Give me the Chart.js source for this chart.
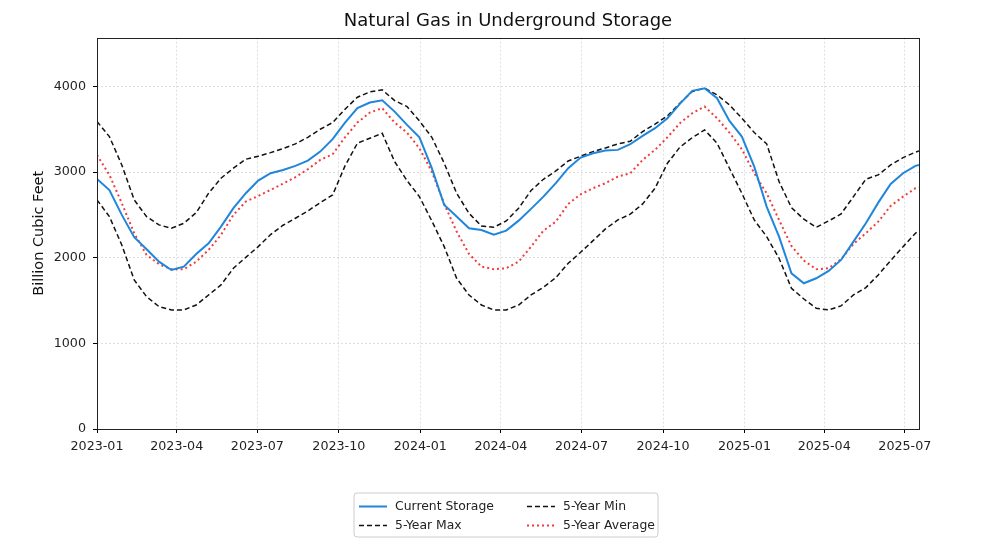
<!DOCTYPE html>
<html>
<head>
<meta charset="utf-8">
<title>Natural Gas in Underground Storage</title>
<script src="https://cdn.jsdelivr.net/npm/chart.js@4.4.1/dist/chart.umd.min.js"></script>
<style>
  html, body { margin: 0; padding: 0; background: #fff; }
  #wrap { width: 1000px; height: 559px; }
</style>
</head>
<body>
<div id="wrap"><canvas id="chart" width="1000" height="559"></canvas></div>
<script>
// days since 2023-01-01, roughly every two weeks
var days = [0, 14, 28, 42, 56, 70, 84, 98, 112, 126, 140, 154,
    168, 182, 196, 210, 224, 238, 252, 266, 280, 294,
    308, 322, 336, 350, 364, 378, 392, 406, 420, 434, 448,
    462, 476, 490, 504, 518, 532, 546, 560, 574, 588, 602,
    616, 630, 644, 658, 672, 686, 700, 714, 728, 742, 756,
    770, 784, 798, 812, 826, 840, 854, 868, 882, 896, 910,
    924, 928];

var currentStorage = [2920, 2790, 2500, 2239, 2099, 1954, 1857, 1896, 2044, 2169, 2363, 2578,
    2753, 2900, 2986, 3025, 3072, 3134, 3239, 3384, 3578, 3746,
    3812, 3839, 3706, 3551, 3406, 3045, 2616, 2480, 2344, 2324, 2270,
    2316, 2433, 2570, 2713, 2870, 3045, 3169, 3220, 3251, 3259, 3325,
    3422, 3512, 3629, 3796, 3948, 3979, 3862, 3597, 3414, 3064, 2597,
    2246, 1818, 1702, 1760, 1845, 1974, 2188, 2402, 2643, 2862, 2986,
    3072, 3083];

var fiveYearMax = [3590, 3414, 3083, 2675, 2480, 2383, 2344, 2402, 2526, 2753, 2928, 3045,
    3150, 3185, 3227, 3274, 3329, 3406, 3500, 3578, 3734, 3874,
    3936, 3960, 3835, 3765, 3597, 3406, 3103, 2753, 2518, 2371, 2356,
    2429, 2578, 2784, 2916, 3013, 3130, 3185, 3239, 3282, 3329, 3360,
    3473, 3559, 3656, 3804, 3940, 3979, 3901, 3784, 3629, 3461, 3330,
    2889, 2585, 2449, 2356, 2429, 2511, 2713, 2916, 2967, 3083, 3169,
    3232, 3247];

var fiveYearMin = [2675, 2480, 2149, 1740, 1545, 1429, 1390, 1390, 1448, 1565, 1682, 1877,
    2004, 2129, 2270, 2379, 2461, 2546, 2643, 2733, 3072, 3337,
    3395, 3453, 3122, 2900, 2713, 2429, 2129, 1760, 1565, 1448, 1390,
    1390, 1448, 1565, 1655, 1767, 1935, 2063, 2199, 2336, 2441, 2508,
    2628, 2811, 3103, 3290, 3402, 3492, 3337, 3045, 2753, 2441, 2246,
    1994, 1643, 1518, 1410, 1390, 1437, 1565, 1651, 1799, 1966, 2129,
    2286, 2316];

var fiveYearAvg = [3200, 2967, 2636, 2286, 2032, 1924, 1865, 1865, 1954, 2091, 2266, 2500,
    2655, 2721, 2792, 2865, 2940, 3033, 3142, 3208, 3406, 3578,
    3695, 3746, 3578, 3461, 3278, 3005, 2628, 2305, 2044, 1896, 1865,
    1877, 1954, 2129, 2316, 2421, 2628, 2741, 2811, 2870, 2947, 2986,
    3142, 3259, 3406, 3570, 3687, 3765, 3629, 3461, 3266, 2986, 2753,
    2441, 2137, 1966, 1865, 1877, 1982, 2161, 2286, 2421, 2605, 2713,
    2811, 2820];

var tickDays = [0, 90, 181, 273, 365, 456, 547, 639, 731, 821, 912];
var tickLabels = ["2023-01", "2023-04", "2023-07", "2023-10", "2024-01", "2024-04",
    "2024-07", "2024-10", "2025-01", "2025-04", "2025-07"];
var yTicks = [0, 1000, 2000, 3000, 4000];

var FONT = "'DejaVu Sans', 'Liberation Sans', sans-serif";

var toPoints = function (values) {
    return values.map(function (v, i) { return { x: days[i], y: v }; });
};

var framePlugin = {
    id: "frame",
    afterDraw: function (chart) {
        var ctx = chart.ctx;
        var a = chart.chartArea;
        ctx.save();
        ctx.strokeStyle = "#222";
        ctx.lineWidth = 1;
        ctx.setLineDash([]);
        ctx.strokeRect(Math.round(a.left) + 0.5, Math.round(a.top) + 0.5,
            Math.round(a.right - a.left), Math.round(a.bottom - a.top));
        ctx.restore();
    }
};

// matplotlib style legend: 2 columns in a framed box under the plot
var legendPlugin = {
    id: "mplLegend",
    afterDraw: function (chart) {
        var ctx = chart.ctx;
        var bx = 354, by = 493, bw = 304, bh = 44, r = 3;
        ctx.save();
        ctx.fillStyle = "rgba(255,255,255,0.9)";
        ctx.strokeStyle = "#cccccc";
        ctx.lineWidth = 1;
        ctx.beginPath();
        ctx.moveTo(bx + r, by);
        ctx.lineTo(bx + bw - r, by);
        ctx.arcTo(bx + bw, by, bx + bw, by + r, r);
        ctx.lineTo(bx + bw, by + bh - r);
        ctx.arcTo(bx + bw, by + bh, bx + bw - r, by + bh, r);
        ctx.lineTo(bx + r, by + bh);
        ctx.arcTo(bx, by + bh, bx, by + bh - r, r);
        ctx.lineTo(bx, by + r);
        ctx.arcTo(bx, by, bx + r, by, r);
        ctx.closePath();
        ctx.fill();
        ctx.stroke();

        var slots = [
            { ds: 0, x: 359, y: 506 },
            { ds: 1, x: 359, y: 525 },
            { ds: 2, x: 527, y: 506 },
            { ds: 3, x: 527, y: 525 }
        ];
        ctx.font = "12.4px " + FONT;
        ctx.textBaseline = "middle";
        ctx.textAlign = "left";
        slots.forEach(function (s) {
            var d = chart.data.datasets[s.ds];
            ctx.strokeStyle = d.borderColor;
            ctx.lineWidth = d.borderWidth;
            ctx.setLineDash(d.borderDash || []);
            ctx.beginPath();
            ctx.moveTo(s.x, s.y + 0.5);
            ctx.lineTo(s.x + 28, s.y + 0.5);
            ctx.stroke();
            ctx.setLineDash([]);
            ctx.fillStyle = "#222";
            ctx.fillText(d.label, s.x + 36, s.y + 1);
        });
        ctx.restore();
    }
};

var ctx = document.getElementById("chart");
var chart = new Chart(ctx, {
    type: "line",
    data: {
        datasets: [
            {
                label: "Current Storage",
                data: toPoints(currentStorage),
                borderColor: "#1f86dc",
                borderWidth: 2,
                pointRadius: 0,
                fill: false
            },
            {
                label: "5-Year Max",
                data: toPoints(fiveYearMax),
                borderColor: "#111",
                borderWidth: 1.5,
                borderDash: [5, 3],
                pointRadius: 0,
                fill: false
            },
            {
                label: "5-Year Min",
                data: toPoints(fiveYearMin),
                borderColor: "#111",
                borderWidth: 1.5,
                borderDash: [5, 3],
                pointRadius: 0,
                fill: false
            },
            {
                label: "5-Year Average",
                data: toPoints(fiveYearAvg),
                borderColor: "#f03c3c",
                borderWidth: 2,
                borderDash: [2, 3],
                pointRadius: 0,
                fill: false
            }
        ]
    },
    options: {
        responsive: false,
        animation: false,
        devicePixelRatio: 1,
        layout: { padding: { left: 31, right: 81, top: 0, bottom: 100 } },
        plugins: {
            legend: { display: false },
            tooltip: { enabled: false },
            title: {
                display: true,
                text: "Natural Gas in Underground Storage",
                fullSize: false,
                color: "#111",
                font: { family: FONT, size: 18, weight: "normal" },
                padding: { top: 11, bottom: 5 }
            }
        },
        scales: {
            x: {
                type: "linear",
                min: 0,
                max: 928,
                afterBuildTicks: function (axis) {
                    axis.ticks = tickDays.map(function (v) { return { value: v }; });
                },
                afterFit: function (axis) { axis.height = 30; },
                ticks: {
                    autoSkip: false,
                    maxRotation: 0,
                    padding: 6,
                    color: "#222",
                    font: { family: FONT, size: 12.7 },
                    callback: function (value, index) { return tickLabels[index]; }
                },
                grid: {
                    color: "#d6d6d6",
                    lineWidth: 0.8,
                    tickLength: 4,
                    tickColor: "#000",
                    tickWidth: 1,
                    tickBorderDash: []
                },
                border: { display: false, dash: [2, 2] }
            },
            y: {
                type: "linear",
                min: 0,
                max: 4570,
                afterBuildTicks: function (axis) {
                    axis.ticks = yTicks.map(function (v) { return { value: v }; });
                },
                afterFit: function (axis) { axis.width = 66; },
                title: {
                    display: true,
                    text: "Billion Cubic Feet",
                    color: "#111",
                    font: { family: FONT, size: 14.5 },
                    padding: { top: 0, bottom: 0 }
                },
                ticks: {
                    padding: 7,
                    color: "#222",
                    font: { family: FONT, size: 12.7 },
                    callback: function (value) { return String(value); }
                },
                grid: {
                    color: "#d6d6d6",
                    lineWidth: 0.8,
                    tickLength: 4,
                    tickColor: "#000",
                    tickWidth: 1,
                    tickBorderDash: []
                },
                border: { display: false, dash: [2, 2] }
            }
        }
    },
    plugins: [framePlugin, legendPlugin]
});
</script>
</body>
</html>
